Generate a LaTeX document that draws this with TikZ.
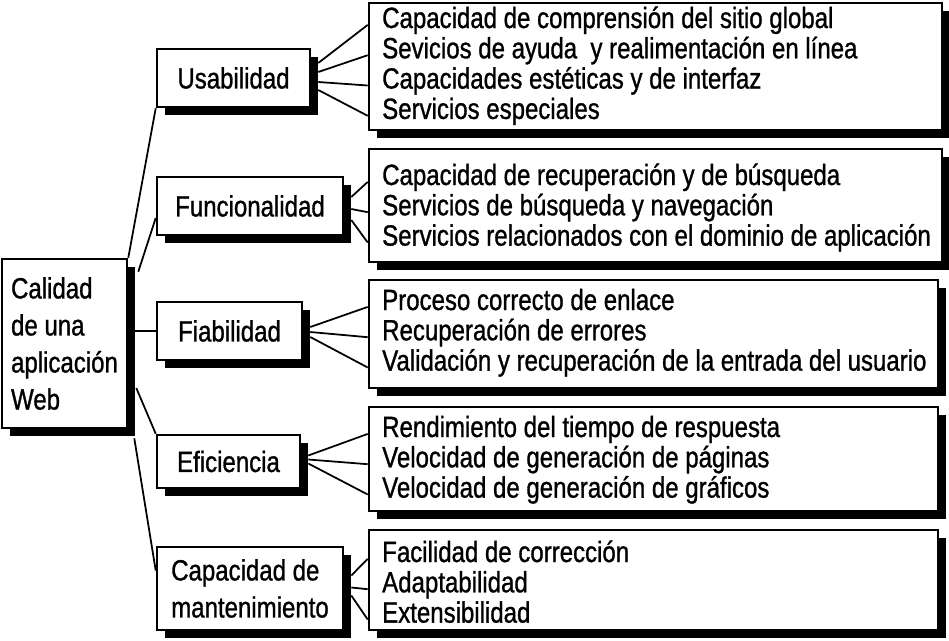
\documentclass[tikz,border=0pt]{standalone}
\usepackage{fontspec}
\setmainfont{Liberation Sans}[FakeStretch=0.82, FakeBold=1]
\usetikzlibrary{calc,shadows}

\begin{document}
\begin{tikzpicture}[x=0.03cm,y=-0.03cm,
    caja/.style={draw, fill=white, line width=2.2pt, inner sep=0pt,
      drop shadow={shadow xshift=6.5pt, shadow yshift=-6.5pt, opacity=1, fill=black}},
    texto/.style={font=\fontsize{25}{31.6}\selectfont, align=left},
    linea/.style={anchor=base west, inner sep=0pt, font=\fontsize{25}{25}\selectfont},
    rama/.style={line width=1.5pt}]
  \def\px{0.03cm}
  \def\salto{30.3}
  \useasboundingbox (0,0) rectangle (949,640);

  \node[caja, texto, minimum width=125*\px, minimum height=169*\px] (raiz) at (64.5,343.5) {Calidad\\de una\\aplicación\\Web};

  \node[caja, texto, minimum width=153*\px, minimum height=58*\px] (usa) at (233.5,78) {Usabilidad};
  \node[caja, texto, minimum width=186*\px, minimum height=58*\px] (fun) at (250,206) {Funcionalidad};
  \node[caja, texto, minimum width=145*\px, minimum height=58*\px] (fia) at (229.5,331) {Fiabilidad};
  \node[caja, texto, minimum width=143*\px, minimum height=53*\px] (efi) at (228.5,461.5) {Eficiencia};
  \node[caja, texto, minimum width=186*\px, minimum height=83*\px] (man) at (250,588.5) {Capacidad de\\mantenimiento};

  \node[caja, minimum width=573*\px, minimum height=127*\px] (l1) at (655.5,66.5) {};
  \node[caja, minimum width=573*\px, minimum height=113*\px] (l2) at (655.5,205.5) {};
  \node[caja, minimum width=569*\px, minimum height=108*\px] (l3) at (653.5,334) {};
  \node[caja, minimum width=569*\px, minimum height=104*\px] (l4) at (653.5,459) {};
  \node[caja, minimum width=569*\px, minimum height=100*\px] (l5) at (653.5,580) {};

  \foreach \t [count=\i] in {Capacidad de comprensión del sitio global,
      Sevicios de ayuda\ \ y realimentación en línea,
      Capacidades estéticas y de interfaz, Servicios especiales}
    \node[linea] (u\i) at (382,28+\salto*\i-\salto) {\t};
  \foreach \t [count=\i] in {Capacidad de recuperación y de búsqueda,
      Servicios de búsqueda y navegación,
      Servicios relacionados con el dominio de aplicación}
    \node[linea] (f\i) at (382,185+\salto*\i-\salto) {\t};
  \foreach \t [count=\i] in {Proceso correcto de enlace, Recuperación de errores,
      Validación y recuperación de la entrada del usuario}
    \node[linea] (a\i) at (382,310+\salto*\i-\salto) {\t};
  \foreach \t [count=\i] in {Rendimiento del tiempo de respuesta,
      Velocidad de generación de páginas,
      Velocidad de generación de gráficos}
    \node[linea] (e\i) at (382,437+\salto*\i-\salto) {\t};
  \foreach \t [count=\i] in {Facilidad de corrección, Adaptabilidad, Extensibilidad}
    \node[linea] (m\i) at (382,562+\salto*\i-\salto) {\t};

  \draw[rama] (raiz.north east) -- (usa.south west);
  \draw[rama] ([shift={(10,14)}]raiz.north east) -- ([yshift=-12*\px]fun.west);
  \draw[rama] (raiz.east |- fia.west) -- (fia.west);
  \draw[rama] ([shift={(8,44.5)}]raiz.east) -- (efi.north west);
  \draw[rama] ([shift={(6,9)}]raiz.south east) -- ([yshift=18*\px]man.west);

  \foreach \i/\d in {1/-15,2/-6,3/4,4/12}
    \draw[rama] ([shift={(7,\d)}]usa.east) -- (u\i.mid west -| l1.west);
  \foreach \i/\d in {1/-9,2/3,3/14}
    \draw[rama] ([shift={(7,\d)}]fun.east) -- (f\i.mid west -| l2.west);
  \foreach \i/\d in {1/-4,2/1,3/6}
    \draw[rama] ([shift={(7,\d)}]fia.east) -- (a\i.mid west -| l3.west);
  \foreach \i/\d in {1/-6,2/-2,3/2}
    \draw[rama] ([shift={(7,\d)}]efi.east) -- (e\i.mid west -| l4.west);
  \foreach \i/\d in {1/-13,2/-1,3/7}
    \draw[rama] ([shift={(7,\d)}]man.east) -- (m\i.mid west -| l5.west);
\end{tikzpicture}
\end{document}
